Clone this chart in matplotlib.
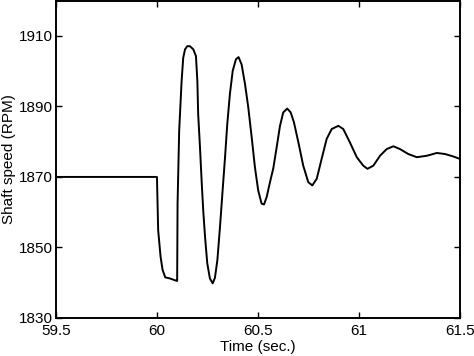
import matplotlib
matplotlib.use('Agg')
import matplotlib.pyplot as plt

plt.rcParams['font.family'] = ['Liberation Sans', 'DejaVu Sans']

# shaft speed trace
time_s = [59.5, 60.0, 60.006, 60.018, 60.028, 60.041, 60.064, 60.098, 60.100, 60.102,
          60.110, 60.122, 60.130, 60.139, 60.150, 60.163, 60.180, 60.193, 60.200, 60.204,
          60.213, 60.221, 60.229, 60.238, 60.249, 60.262, 60.276, 60.287, 60.299, 60.312,
          60.325, 60.337, 60.348, 60.361, 60.375, 60.391, 60.404, 60.419, 60.436, 60.452,
          60.469, 60.485, 60.501, 60.518, 60.530, 60.543, 60.559, 60.576, 60.593, 60.609,
          60.625, 60.645, 60.662, 60.678, 60.700, 60.724, 60.749, 60.769, 60.791, 60.815,
          60.840, 60.865, 60.898, 60.922, 60.955, 60.989, 61.021, 61.042, 61.071, 61.104,
          61.137, 61.170, 61.203, 61.244, 61.286, 61.335, 61.385, 61.426, 61.467, 61.5]
speed_rpm = [1870.0, 1870.0, 1854.9, 1847.3, 1843.6, 1841.5, 1841.2, 1840.5, 1840.5, 1862.4,
             1883.1, 1897.2, 1903.8, 1906.2, 1907.1, 1907.1, 1906.2, 1904.3, 1897.2, 1887.8,
             1878.4, 1869.0, 1860.5, 1853.0, 1845.5, 1841.2, 1839.8, 1841.4, 1846.4, 1855.8,
             1866.2, 1875.6, 1885.0, 1893.5, 1900.1, 1903.4, 1904.0, 1901.9, 1896.3, 1889.7,
             1881.2, 1872.7, 1866.2, 1862.4, 1862.2, 1864.3, 1868.4, 1872.5, 1878.6, 1884.5,
             1888.3, 1889.4, 1888.3, 1885.5, 1879.8, 1873.2, 1868.5, 1867.6, 1869.5, 1875.1,
             1880.8, 1883.6, 1884.5, 1883.6, 1879.8, 1875.6, 1873.2, 1872.3, 1873.2, 1876.0,
             1877.9, 1878.7, 1877.9, 1876.5, 1875.6, 1876.0, 1876.8, 1876.5, 1875.8, 1875.1]

xticks = [59.5, 60, 60.5, 61, 61.5]
xticklabels = ['59.5', '60', '60.5', '61', '61.5']
yticks = [1830, 1850, 1870, 1890, 1910]

fig = plt.figure(figsize=(4.74, 3.56), dpi=100)
ax = fig.add_axes([0.118, 0.107, 0.8525, 0.891])

ax.plot(time_s, speed_rpm, color='black', linewidth=1.4, solid_joinstyle='round')

ax.set_xlim(59.5, 61.5)
ax.set_ylim(1830, 1920)
ax.set_xticks(xticks)
ax.set_xticklabels(xticklabels)
ax.set_yticks(yticks)
ax.tick_params(direction='in', length=4, width=1, top=True, right=True,
               labelsize=11)
ax.tick_params(axis='y', pad=2.5)
ax.tick_params(axis='x', pad=4.5)
for s in ax.spines.values():
    s.set_linewidth(1.4)

ax.set_xlabel('Time (sec.)', fontsize=11, labelpad=1.5)
ax.set_ylabel('Shaft speed (RPM)', fontsize=11, labelpad=2)

plt.savefig('out.png', dpi=100)
